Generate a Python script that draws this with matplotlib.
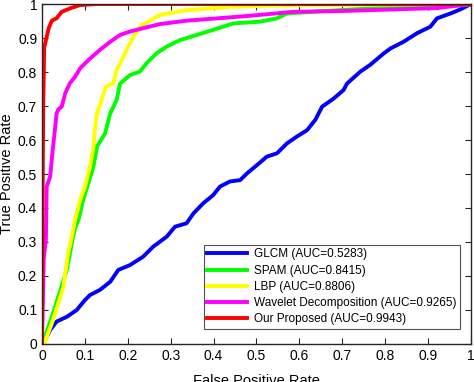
import matplotlib
matplotlib.use("Agg")
import matplotlib.pyplot as plt

plt.rcParams['font.family'] = ['Liberation Sans', 'DejaVu Sans']

# ROC points (fpr, tpr)
glcm_fpr = [0, 0.003, 0.019, 0.034, 0.058, 0.081, 0.100, 0.112, 0.135, 0.159, 0.178, 0.205,
            0.236, 0.259, 0.291, 0.310, 0.337, 0.353, 0.376, 0.399, 0.415, 0.438, 0.462,
            0.478, 0.501, 0.524, 0.548, 0.571, 0.594, 0.618, 0.637, 0.653, 0.680, 0.703,
            0.711, 0.742, 0.765, 0.797, 0.812, 0.843, 0.874, 0.905, 0.921, 0.952, 0.975, 1.0]
glcm_tpr = [0, 0.002, 0.041, 0.066, 0.080, 0.100, 0.129, 0.144, 0.159, 0.183, 0.218, 0.232,
            0.257, 0.286, 0.316, 0.345, 0.355, 0.384, 0.414, 0.438, 0.463, 0.478, 0.482,
            0.502, 0.526, 0.551, 0.561, 0.590, 0.610, 0.629, 0.659, 0.698, 0.722, 0.747,
            0.766, 0.801, 0.821, 0.855, 0.869, 0.889, 0.914, 0.933, 0.958, 0.972, 0.984, 1.0]

spam_fpr = [0, 0.003, 0.023, 0.038, 0.058, 0.071, 0.077, 0.085, 0.096, 0.108, 0.120, 0.128,
            0.147, 0.151, 0.159, 0.174, 0.182, 0.205, 0.228, 0.244, 0.267, 0.291, 0.322,
            0.361, 0.399, 0.446, 0.508, 0.548, 0.571, 0.640, 0.765, 0.870, 0.984, 1.0]
spam_tpr = [0, 0.007, 0.080, 0.139, 0.218, 0.306, 0.340, 0.365, 0.424, 0.473, 0.522, 0.580,
            0.619, 0.639, 0.678, 0.718, 0.766, 0.791, 0.801, 0.826, 0.855, 0.875, 0.894,
            0.909, 0.924, 0.943, 0.948, 0.958, 0.972, 0.978, 0.987, 0.992, 0.997, 1.0]

lbp_fpr = [0, 0.007, 0.023, 0.038, 0.050, 0.061, 0.068, 0.077, 0.089, 0.100, 0.112, 0.120,
           0.124, 0.128, 0.139, 0.149, 0.166, 0.174, 0.186, 0.201, 0.213, 0.232, 0.248,
           0.275, 0.337, 0.446, 0.550, 0.750, 1.0]
lbp_tpr = [0, 0.007, 0.061, 0.120, 0.169, 0.267, 0.306, 0.365, 0.424, 0.463, 0.522, 0.580,
           0.640, 0.678, 0.718, 0.757, 0.766, 0.806, 0.835, 0.875, 0.904, 0.938, 0.948,
           0.968, 0.982, 0.992, 0.996, 0.998, 1.0]

wav_fpr = [0, 0.004, 0.009, 0.011, 0.019, 0.025, 0.030, 0.034, 0.038, 0.046, 0.054, 0.065,
           0.077, 0.089, 0.108, 0.135, 0.159, 0.182, 0.205, 0.236, 0.275, 0.337, 0.462,
           0.508, 0.585, 0.688, 0.921, 1.0]
wav_tpr = [0, 0.250, 0.306, 0.463, 0.492, 0.571, 0.629, 0.678, 0.690, 0.698, 0.737, 0.767,
           0.786, 0.811, 0.835, 0.865, 0.889, 0.909, 0.919, 0.929, 0.941, 0.951, 0.963,
           0.968, 0.977, 0.979, 0.988, 1.0]

ours_fpr = [0, 0.001, 0.002, 0.003, 0.004, 0.005, 0.011, 0.016, 0.023, 0.034, 0.046, 0.065,
            0.089, 0.127, 1.0]
ours_tpr = [0, 0.30, 0.55, 0.72, 0.78, 0.87, 0.904, 0.930, 0.951, 0.958, 0.977, 0.987,
            0.997, 1.0, 1.0]

labels = ['GLCM (AUC=0.5283)', 'SPAM (AUC=0.8415)', 'LBP (AUC=0.8806)',
          'Wavelet Decomposition (AUC=0.9265)', 'Our Proposed (AUC=0.9943)']
colors = ['#0000ff', '#00ff00', '#ffff00', '#ff00ff', '#ff0000']
ticks = [0, 0.1, 0.2, 0.3, 0.4, 0.5, 0.6, 0.7, 0.8, 0.9, 1]
tick_labels = ['0', '0.1', '0.2', '0.3', '0.4', '0.5', '0.6', '0.7', '0.8', '0.9', '1']

fig = plt.figure(figsize=(4.74, 3.82), dpi=100)
ax = fig.add_axes([0.0886, 0.0995, 0.905, 0.890])

curves = [(glcm_fpr, glcm_tpr), (spam_fpr, spam_tpr), (lbp_fpr, lbp_tpr),
          (wav_fpr, wav_tpr), (ours_fpr, ours_tpr)]
for (x, y), c, lab in zip(curves, colors, labels):
    ax.plot(x, y, color=c, lw=2.8, label=lab, solid_joinstyle='round')

ax.set_xlim(0, 1)
ax.set_ylim(0, 1)
ax.set_xticks(ticks)
ax.set_xticklabels(tick_labels)
ax.set_yticks(ticks)
ax.set_yticklabels(tick_labels)
ax.tick_params(direction='in', top=True, right=True, labelsize=10, length=4,
               width=0.8, color='#262626')
for s in ax.spines.values():
    s.set_linewidth(1.0)
    s.set_color('#262626')

ax.set_xlabel('False Positive Rate', fontsize=10.5, labelpad=8)
ax.set_ylabel('True Positive Rate', fontsize=10.5, labelpad=3)

leg = ax.legend(loc='lower right', bbox_to_anchor=(0.974, 0.044), fontsize=8.5,
                frameon=True, fancybox=False, edgecolor='#262626', handlelength=3.4,
                handletextpad=0.55, labelspacing=0.36, borderpad=0.3, borderaxespad=0)
leg.get_frame().set_linewidth(0.8)

fig.savefig('out.png', dpi=100)
